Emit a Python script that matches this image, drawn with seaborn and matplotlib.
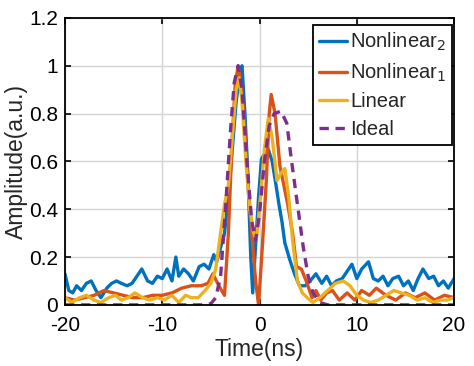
import numpy as np
import pandas as pd
import seaborn as sns
import matplotlib
matplotlib.use("Agg")
import matplotlib.pyplot as plt
from matplotlib.ticker import FuncFormatter

# values
nl2_t = [-20, -19.6, -19.2, -18.8, -18.3, -17.8, -17.3, -16.8, -16.3, -15.7,
         -15.2, -14.7, -14.2, -13.6, -13.1, -12.6, -12.1, -11.5, -11.0, -10.5,
         -10.0, -9.5, -9.0, -8.6, -8.3, -7.8, -7.3, -6.8, -6.2, -5.7,
         -5.2, -4.7, -4.4, -4.0, -3.6, -3.2, -2.8, -2.4, -2.0, -1.8,
         -1.5, -1.2, -0.9, -0.7, -0.4, -0.1, 0.2, 0.5, 0.9, 1.3,
         1.7, 2.0, 2.3, 2.6, 3.1, 3.6, 4.1, 4.7, 5.2, 5.8,
         6.4, 6.9, 7.4, 7.9, 8.5, 9.0, 9.5, 10.0, 10.5, 11.2,
         11.7, 12.2, 12.7, 13.2, 13.7, 14.3, 14.8, 15.3, 15.8, 16.3,
         16.8, 17.4, 17.9, 18.4, 18.9, 19.4, 20]
nl2_a = [0.13, 0.06, 0.05, 0.08, 0.06, 0.09, 0.10, 0.06, 0.03, 0.07,
         0.09, 0.10, 0.09, 0.08, 0.09, 0.12, 0.15, 0.10, 0.09, 0.12,
         0.11, 0.15, 0.10, 0.20, 0.12, 0.15, 0.13, 0.10, 0.16, 0.17,
         0.15, 0.21, 0.18, 0.24, 0.30, 0.45, 0.65, 0.85, 0.98, 1.00,
         0.80, 0.55, 0.20, 0.05, 0.25, 0.45, 0.61, 0.63, 0.65, 0.60,
         0.50, 0.42, 0.35, 0.26, 0.19, 0.13, 0.08, 0.08, 0.10, 0.13,
         0.09, 0.12, 0.08, 0.10, 0.11, 0.14, 0.17, 0.11, 0.15, 0.18,
         0.11, 0.10, 0.12, 0.08, 0.11, 0.12, 0.08, 0.10, 0.06, 0.11,
         0.15, 0.11, 0.12, 0.08, 0.10, 0.07, 0.11]

nl1_t = [-20, -19, -18, -17, -16, -15, -14, -13, -12, -11,
         -10, -9, -8, -7, -6, -5.3, -4.8, -4.3, -3.9, -3.6,
         -3.2, -2.8, -2.5, -2.2, -2.0, -1.6, -1.2, -0.8, -0.4, -0.1,
         0.3, 0.7, 1.0, 1.2, 1.6, 2.1, 2.5, 2.9, 3.4, 3.8,
         4.3, 4.8, 5.4, 5.8, 6.3, 6.9, 7.5, 8.2, 9.0, 9.8,
         10.5, 11.3, 12.0, 13.0, 14.0, 15.0, 16.0, 17.0, 18.0, 19.0, 20.0]
nl1_a = [0.03, 0.02, 0.03, 0.04, 0.06, 0.05, 0.04, 0.03, 0.03, 0.04,
         0.04, 0.05, 0.07, 0.08, 0.08, 0.09, 0.13, 0.09, 0.06, 0.04,
         0.30, 0.70, 0.92, 1.00, 0.95, 0.80, 0.52, 0.30, 0.10, 0.00,
         0.25, 0.52, 0.80, 0.88, 0.80, 0.58, 0.50, 0.42, 0.30, 0.16,
         0.15, 0.10, 0.03, 0.06, 0.02, 0.05, 0.06, 0.02, 0.05, 0.02,
         0.06, 0.04, 0.07, 0.04, 0.02, 0.05, 0.03, 0.05, 0.02, 0.04, 0.03]

lin_t = [-20, -19.3, -18.5, -17.8, -17, -16.3, -15.5, -14.8, -14.2, -13.5,
         -12.8, -12.0, -11.3, -10.5, -9.8, -9.0, -8.3, -7.6, -7.0, -6.3,
         -5.6, -5.0, -4.5, -4.0, -3.6, -3.2, -2.8, -2.4, -2.1, -1.8,
         -1.4, -1.0, -0.6, -0.3, 0.1, 0.5, 0.9, 1.3, 1.8, 2.2,
         2.6, 3.0, 3.4, 3.9, 4.4, 4.9, 5.5, 6.2, 7.0, 7.8,
         8.6, 9.3, 10.0, 10.7, 11.4, 12.2, 13.0, 13.8, 14.6, 15.4,
         16.2, 17.0, 17.8, 18.6, 19.3, 20]
lin_a = [0.03, 0.01, 0.03, 0.04, 0.02, 0.01, 0.03, 0.04, 0.02, 0.03,
         0.05, 0.03, 0.02, 0.03, 0.02, 0.04, 0.01, 0.04, 0.03, 0.03,
         0.06, 0.09, 0.15, 0.30, 0.42, 0.50, 0.70, 0.90, 0.95, 0.85,
         0.60, 0.40, 0.30, 0.28, 0.45, 0.65, 0.78, 0.70, 0.52, 0.55,
         0.57, 0.45, 0.27, 0.10, 0.05, 0.03, 0.01, 0.03, 0.06, 0.09,
         0.10, 0.08, 0.04, 0.02, 0.01, 0.02, 0.04, 0.06, 0.05, 0.04,
         0.02, 0.03, 0.01, 0.02, 0.02, 0.03]

ideal_t = [-20, -6, -5, -4.5, -4.0, -3.5, -3.0, -2.6, -2.2, -1.8,
           -1.3, -0.8, -0.4, 0.0, 0.5, 1.0, 1.5, 2.2, 2.8, 3.3,
           3.9, 4.5, 5.0, 5.5, 6.2, 7.0, 20]
ideal_a = [0, 0, 0.005, 0.03, 0.12, 0.40, 0.72, 0.93, 1.00, 0.90,
           0.60, 0.35, 0.27, 0.38, 0.60, 0.75, 0.80, 0.81, 0.76, 0.60,
           0.42, 0.24, 0.12, 0.05, 0.01, 0, 0]

sns.set_style("ticks")
plt.rcParams['font.family'] = ['Liberation Sans', 'DejaVu Sans']
plt.rcParams['axes.unicode_minus'] = False

fig = plt.figure(figsize=(4.74, 3.66), dpi=100)
ax = fig.add_axes([0.137, 0.167, 0.821, 0.784])

lw = 2.4
sns.lineplot(x=nl2_t, y=nl2_a, color='#0072BD', lw=lw, ax=ax, label='Nonlinear$_2$')
sns.lineplot(x=nl1_t, y=nl1_a, color='#D95319', lw=lw, ax=ax, label='Nonlinear$_1$')
sns.lineplot(x=lin_t, y=lin_a, color='#EDB120', lw=lw, ax=ax, label='Linear')
sns.lineplot(x=ideal_t, y=ideal_a, color='#7E2F8E', lw=lw, ax=ax, label='Ideal')
ax.lines[-1].set_linestyle((0, (2.8, 2.0)))

ax.set_xlim(-20, 20)
ax.set_ylim(0, 1.2)
ax.set_xticks([-20, -10, 0, 10, 20])
ax.set_yticks([0, 0.2, 0.4, 0.6, 0.8, 1.0, 1.2])
ax.yaxis.set_major_formatter(FuncFormatter(lambda v, p: '%g' % v))
ax.grid(True, color='#d4d4d4', lw=1.0)
ax.set_axisbelow(True)
ax.tick_params(direction='in', length=4.5, width=1.2, top=True, right=True,
               labelsize=15, colors='black')
ax.tick_params(axis='x', pad=8)
ax.tick_params(axis='y', pad=5)
for s in ax.spines.values():
    s.set_visible(True)
    s.set_linewidth(1.3)
    s.set_color('black')

ax.set_xlabel('Time(ns)', fontsize=16.5, labelpad=2)
ax.set_ylabel('Amplitude(a.u.)', fontsize=16.5, labelpad=1)

leg = ax.legend(loc='upper right', bbox_to_anchor=(0.995, 0.976), fontsize=14.5,
                frameon=True, fancybox=False, edgecolor='black', framealpha=1,
                handlelength=1.4, handletextpad=0.15, borderpad=0.3,
                labelspacing=0.42, borderaxespad=0)
leg.get_frame().set_linewidth(1.3)

fig.savefig('out.png', dpi=100)
